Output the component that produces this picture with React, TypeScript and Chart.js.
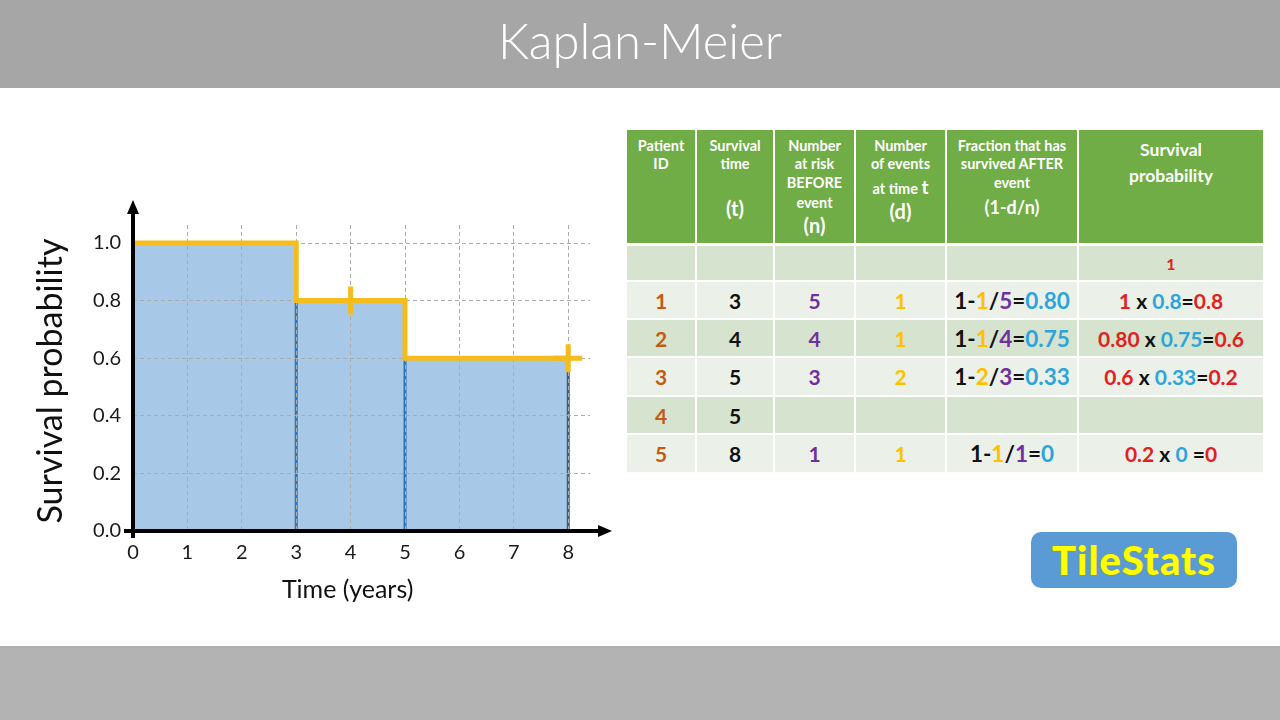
import React, { useEffect, useRef } from 'react';
import { Chart, registerables } from 'chart.js';

Chart.register(...registerables);

// ---- chart data ----
const kmTimes = [0, 3, 5, 8];
const kmSurvival = [1.0, 0.8, 0.6, 0.6];
const censorTimes = [4, 8];
const censorSurvival = [0.8, 0.6];
const dropTimes = [3, 5, 8];
const dropSurvival = [0.8, 0.6, 0.6];
const xTickValues = [0, 1, 2, 3, 4, 5, 6, 7, 8];
const yTickValues = [0, 0.2, 0.4, 0.6, 0.8, 1.0];

// ---- table data ----
const patientIds = ['1', '2', '3', '4', '5'];
const survivalTimes = ['3', '4', '5', '5', '8'];
const atRiskN = ['5', '4', '3', '', '1'];
const eventsD = ['1', '1', '2', '', '1'];
const fractionValues = ['0.80', '0.75', '0.33', '', '0'];
const priorSurvival = ['1', '0.80', '0.6', '', '0.2'];
const factorValues = ['0.8', '0.75', '0.33', '', '0'];
const eqSeparators = ['=', '=', '=', '', ' ='];
const survivalResults = ['0.8', '0.6', '0.2', '', '0'];
const initialSurvival = '1';

const YELLOW = '#F4BC1C';
const FILL = '#A8C8E8';
const BROWN = '#C55A11';
const PURPLE = '#7030A0';
const GOLD = '#FFC000';
const LBLUE = '#2EA4DA';
const RED = '#E2211E';
const FONT = 'Lato, "Open Sans", sans-serif';

const colEdges = [
  [627, 695],
  [697, 773],
  [775, 854],
  [856, 945],
  [947, 1077],
  [1079, 1263],
];
const headerRow = [130, 243];
const bodyRows = [
  [246, 280],
  [282, 318],
  [320, 356],
  [358, 395],
  [397, 433],
  [435, 472],
];
const bandDark = '#D5E3CF';
const bandLight = '#EBF1E9';

type HL = { t: React.ReactNode; y: number; s?: number };
const headerLines: HL[][] = [
  [{ t: 'Patient', y: 146 }, { t: 'ID', y: 164 }],
  [{ t: 'Survival', y: 146 }, { t: 'time', y: 164 }, { t: '(t)', y: 208, s: 20 }],
  [
    { t: 'Number', y: 146 },
    { t: 'at risk', y: 164 },
    { t: 'BEFORE', y: 183 },
    { t: 'event', y: 203 },
    { t: '(n)', y: 225, s: 20 },
  ],
  [
    { t: 'Number', y: 146 },
    { t: 'of events', y: 164 },
    { t: <>at time <span style={{ fontSize: 19 }}>t</span></>, y: 187 },
    { t: '(d)', y: 211, s: 20 },
  ],
  [
    { t: 'Fraction that has', y: 146 },
    { t: 'survived AFTER', y: 164 },
    { t: 'event', y: 183 },
    { t: '(1-d/n)', y: 207, s: 18 },
  ],
  [{ t: 'Survival', y: 150, s: 17.5 }, { t: 'probability', y: 176, s: 17.5 }],
];

function Cell(props: { col: number; row: number[]; bg: string; children?: React.ReactNode; size?: number }) {
  const [x0, x1] = colEdges[props.col];
  const [y0, y1] = props.row;
  return (
    <div
      style={{
        position: 'absolute',
        left: x0,
        top: y0,
        width: x1 - x0,
        height: y1 - y0,
        background: props.bg,
        display: 'flex',
        alignItems: 'center',
        justifyContent: 'center',
        fontFamily: FONT,
        fontWeight: 700,
        fontSize: props.size ?? 21,
        color: '#111',
        whiteSpace: 'nowrap',
      }}
    >
      {props.children}
    </div>
  );
}

function KMChart() {
  const ref = useRef<HTMLCanvasElement | null>(null);
  useEffect(() => {
    if (!ref.current) return;
    const dropPlugin = {
      id: 'drops',
      beforeDraw(chart: any) {
        const { ctx, scales } = chart;
        const xs = scales.x;
        const ys = scales.y;
        ctx.save();
        dropTimes.forEach((t, i) => {
          const px = xs.getPixelForValue(t);
          ctx.beginPath();
          ctx.lineWidth = 3;
          ctx.strokeStyle = i === dropTimes.length - 1 ? '#3E5C7E' : '#2E75B6';
          ctx.moveTo(px, ys.getPixelForValue(0));
          ctx.lineTo(px, ys.getPixelForValue(dropSurvival[i]));
          ctx.stroke();
        });
        ctx.restore();
      },
    };
    const axesPlugin = {
      id: 'arrowAxes',
      afterDatasetsDraw(chart: any) {
        const { ctx, scales, chartArea } = chart;
        const x0 = scales.x.getPixelForValue(0);
        const y0 = scales.y.getPixelForValue(0);
        const yTip = chartArea.top - 25;
        const xTip = chartArea.right + 22;
        ctx.save();
        ctx.strokeStyle = '#000';
        ctx.fillStyle = '#000';
        ctx.lineWidth = 4;
        ctx.beginPath();
        ctx.moveTo(x0, y0 + 7);
        ctx.lineTo(x0, yTip + 10);
        ctx.moveTo(x0 - 9, y0);
        ctx.lineTo(xTip - 10, y0);
        ctx.stroke();
        ctx.beginPath();
        ctx.moveTo(x0, yTip);
        ctx.lineTo(x0 - 6, yTip + 14);
        ctx.lineTo(x0 + 6, yTip + 14);
        ctx.closePath();
        ctx.fill();
        ctx.beginPath();
        ctx.moveTo(xTip, y0);
        ctx.lineTo(xTip - 14, y0 - 6);
        ctx.lineTo(xTip - 14, y0 + 6);
        ctx.closePath();
        ctx.fill();
        ctx.restore();
      },
      afterDraw(chart: any) {
        const { ctx, scales } = chart;
        const xs = scales.x;
        const ys = scales.y;
        ctx.save();
        ctx.fillStyle = '#111';
        ctx.textAlign = 'center';
        ctx.textBaseline = 'alphabetic';
        ctx.font = '25px ' + FONT;
        const xMid = (xs.getPixelForValue(xTickValues[0]) + xs.getPixelForValue(xTickValues[xTickValues.length - 1])) / 2;
        ctx.fillText('Time (years)', xMid - 3, ys.getPixelForValue(0) + 67);
        const yMid = (ys.getPixelForValue(0) + ys.getPixelForValue(1)) / 2 - 6;
        ctx.translate(62, yMid);
        ctx.rotate(-Math.PI / 2);
        ctx.font = '34px ' + FONT;
        ctx.fillText('Survival probability', 0, 0);
        ctx.restore();
      },
    };

    const chart = new Chart(ref.current, {
      type: 'line',
      data: {
        datasets: [
          {
            type: 'scatter',
            data: censorTimes.map((t, i) => ({ x: t, y: censorSurvival[i] })),
            pointStyle: 'cross',
            pointRadius: 14,
            pointBorderWidth: 5,
            borderColor: YELLOW,
            backgroundColor: YELLOW,
            showLine: false,
            clip: false,
          } as any,
          {
            type: 'line',
            data: kmTimes.map((t, i) => ({ x: t, y: kmSurvival[i] })),
            stepped: 'before',
            fill: 'origin',
            backgroundColor: FILL,
            borderColor: YELLOW,
            borderWidth: 5,
            borderJoinStyle: 'miter',
            borderCapStyle: 'butt',
            pointRadius: 0,
          } as any,
        ],
      },
      options: {
        animation: false,
        responsive: false,
        devicePixelRatio: 1,
        events: [],
        layout: { padding: { left: 0, top: 125, right: 50, bottom: 0 } },
        plugins: {
          legend: { display: false },
          tooltip: { enabled: false },
          filler: { drawTime: 'beforeDraw' } as any,
        },
        scales: {
          x: {
            type: 'linear',
            min: 0,
            max: 8.4,
            afterBuildTicks: (s: any) => {
              s.ticks = xTickValues.map((v) => ({ value: v }));
            },
            afterFit: (s: any) => {
              s.height = 109;
            },
            grid: { color: '#ABABAB', lineWidth: 1, drawTicks: false },
            border: { display: false, dash: [4, 3] },
            ticks: {
              padding: 10,
              color: '#1a1a1a',
              font: { family: FONT, size: 20 },
              callback: (v: any) => String(v),
              maxRotation: 0,
            },
          },
          y: {
            type: 'linear',
            min: 0,
            max: 1.0625,
            afterBuildTicks: (s: any) => {
              s.ticks = yTickValues.map((v) => ({ value: v }));
            },
            afterFit: (s: any) => {
              s.width = 133;
            },
            grid: { color: '#ABABAB', lineWidth: 1, drawTicks: false },
            border: { display: false, dash: [4, 3] },
            ticks: {
              padding: 12,
              color: '#1a1a1a',
              font: { family: FONT, size: 20 },
              callback: (v: any) => Number(v).toFixed(1),
            },
          },
        },
      },
      plugins: [dropPlugin, axesPlugin],
    } as any);
    return () => chart.destroy();
  }, []);
  return <canvas ref={ref} width={640} height={540} style={{ position: 'absolute', left: 0, top: 100 }} />;
}

export default function App() {
  useEffect(() => {
    document.body.style.margin = '0';
  }, []);
  const c = (color: string, text: string) => <span style={{ color }}>{text}</span>;
  return (
    <div
      style={{
        position: 'absolute',
        left: 0,
        top: 0,
        width: 1280,
        height: 720,
        background: '#fff',
        overflow: 'hidden',
        fontFamily: FONT,
      }}
    >
      <div style={{ position: 'absolute', left: 0, top: 0, width: 1280, height: 88, background: '#A6A6A6' }}>
        <div
          style={{
            position: 'absolute',
            left: 0,
            top: 16,
            width: 1280,
            textAlign: 'center',
            color: '#fff',
            fontFamily: FONT,
            fontWeight: 300,
            fontSize: 49,
            lineHeight: '49px',
          }}
        >
          Kaplan-Meier
        </div>
      </div>

      <KMChart />

      {/* header */}
      {headerLines.map((lines, ci) => {
        const [x0, x1] = colEdges[ci];
        return (
          <div
            key={'h' + ci}
            style={{
              position: 'absolute',
              left: x0,
              top: headerRow[0],
              width: x1 - x0,
              height: headerRow[1] - headerRow[0],
              background: '#70AD47',
            }}
          >
            {lines.map((l, li) => (
              <div
                key={li}
                style={{
                  position: 'absolute',
                  left: 0,
                  width: x1 - x0,
                  top: l.y - headerRow[0] - 12,
                  height: 24,
                  lineHeight: '24px',
                  textAlign: 'center',
                  color: '#fff',
                  fontWeight: 700,
                  fontSize: l.s ?? 14.5,
                  whiteSpace: 'nowrap',
                }}
              >
                {l.t}
              </div>
            ))}
          </div>
        );
      })}

      {/* initial row */}
      {colEdges.map((_, ci) => (
        <Cell key={'r0' + ci} col={ci} row={bodyRows[0]} bg={bandDark} size={16}>
          {ci === 5 ? c(RED, initialSurvival) : null}
        </Cell>
      ))}

      {patientIds.map((pid, i) => {
        const row = bodyRows[i + 1];
        const bg = i % 2 === 0 ? bandLight : bandDark;
        const hasEvent = eventsD[i] !== '';
        return (
          <React.Fragment key={'row' + i}>
            <Cell col={0} row={row} bg={bg}>{c(BROWN, pid)}</Cell>
            <Cell col={1} row={row} bg={bg}>{c('#111', survivalTimes[i])}</Cell>
            <Cell col={2} row={row} bg={bg}>{c(PURPLE, atRiskN[i])}</Cell>
            <Cell col={3} row={row} bg={bg}>{c(GOLD, eventsD[i])}</Cell>
            <Cell col={4} row={row} bg={bg} size={22.5}>
              {hasEvent ? (
                <span>
                  {c('#111', '1-')}
                  {c(GOLD, eventsD[i])}
                  {c('#111', '/')}
                  {c(PURPLE, atRiskN[i])}
                  {c('#111', '=')}
                  {c(LBLUE, fractionValues[i])}
                </span>
              ) : null}
            </Cell>
            <Cell col={5} row={row} bg={bg}>
              {hasEvent ? (
                <span>
                  {c(RED, priorSurvival[i])}
                  {c('#111', ' x ')}
                  {c(LBLUE, factorValues[i])}
                  {c('#111', eqSeparators[i])}
                  {c(RED, survivalResults[i])}
                </span>
              ) : null}
            </Cell>
          </React.Fragment>
        );
      })}

      {/* logo */}
      <div
        style={{
          position: 'absolute',
          left: 1031,
          top: 532,
          width: 206,
          height: 56,
          borderRadius: 10,
          background: '#5B9BD5',
          display: 'flex',
          alignItems: 'center',
          justifyContent: 'center',
          color: '#FFFF00',
          fontFamily: FONT,
          fontWeight: 900,
          fontSize: 40,
          letterSpacing: 1,
          textShadow: '0 0 1px #9a9a20',
        }}
      >
        TileStats
      </div>

      <div style={{ position: 'absolute', left: 0, top: 646, width: 1280, height: 74, background: '#B3B3B3' }} />
    </div>
  );
}
